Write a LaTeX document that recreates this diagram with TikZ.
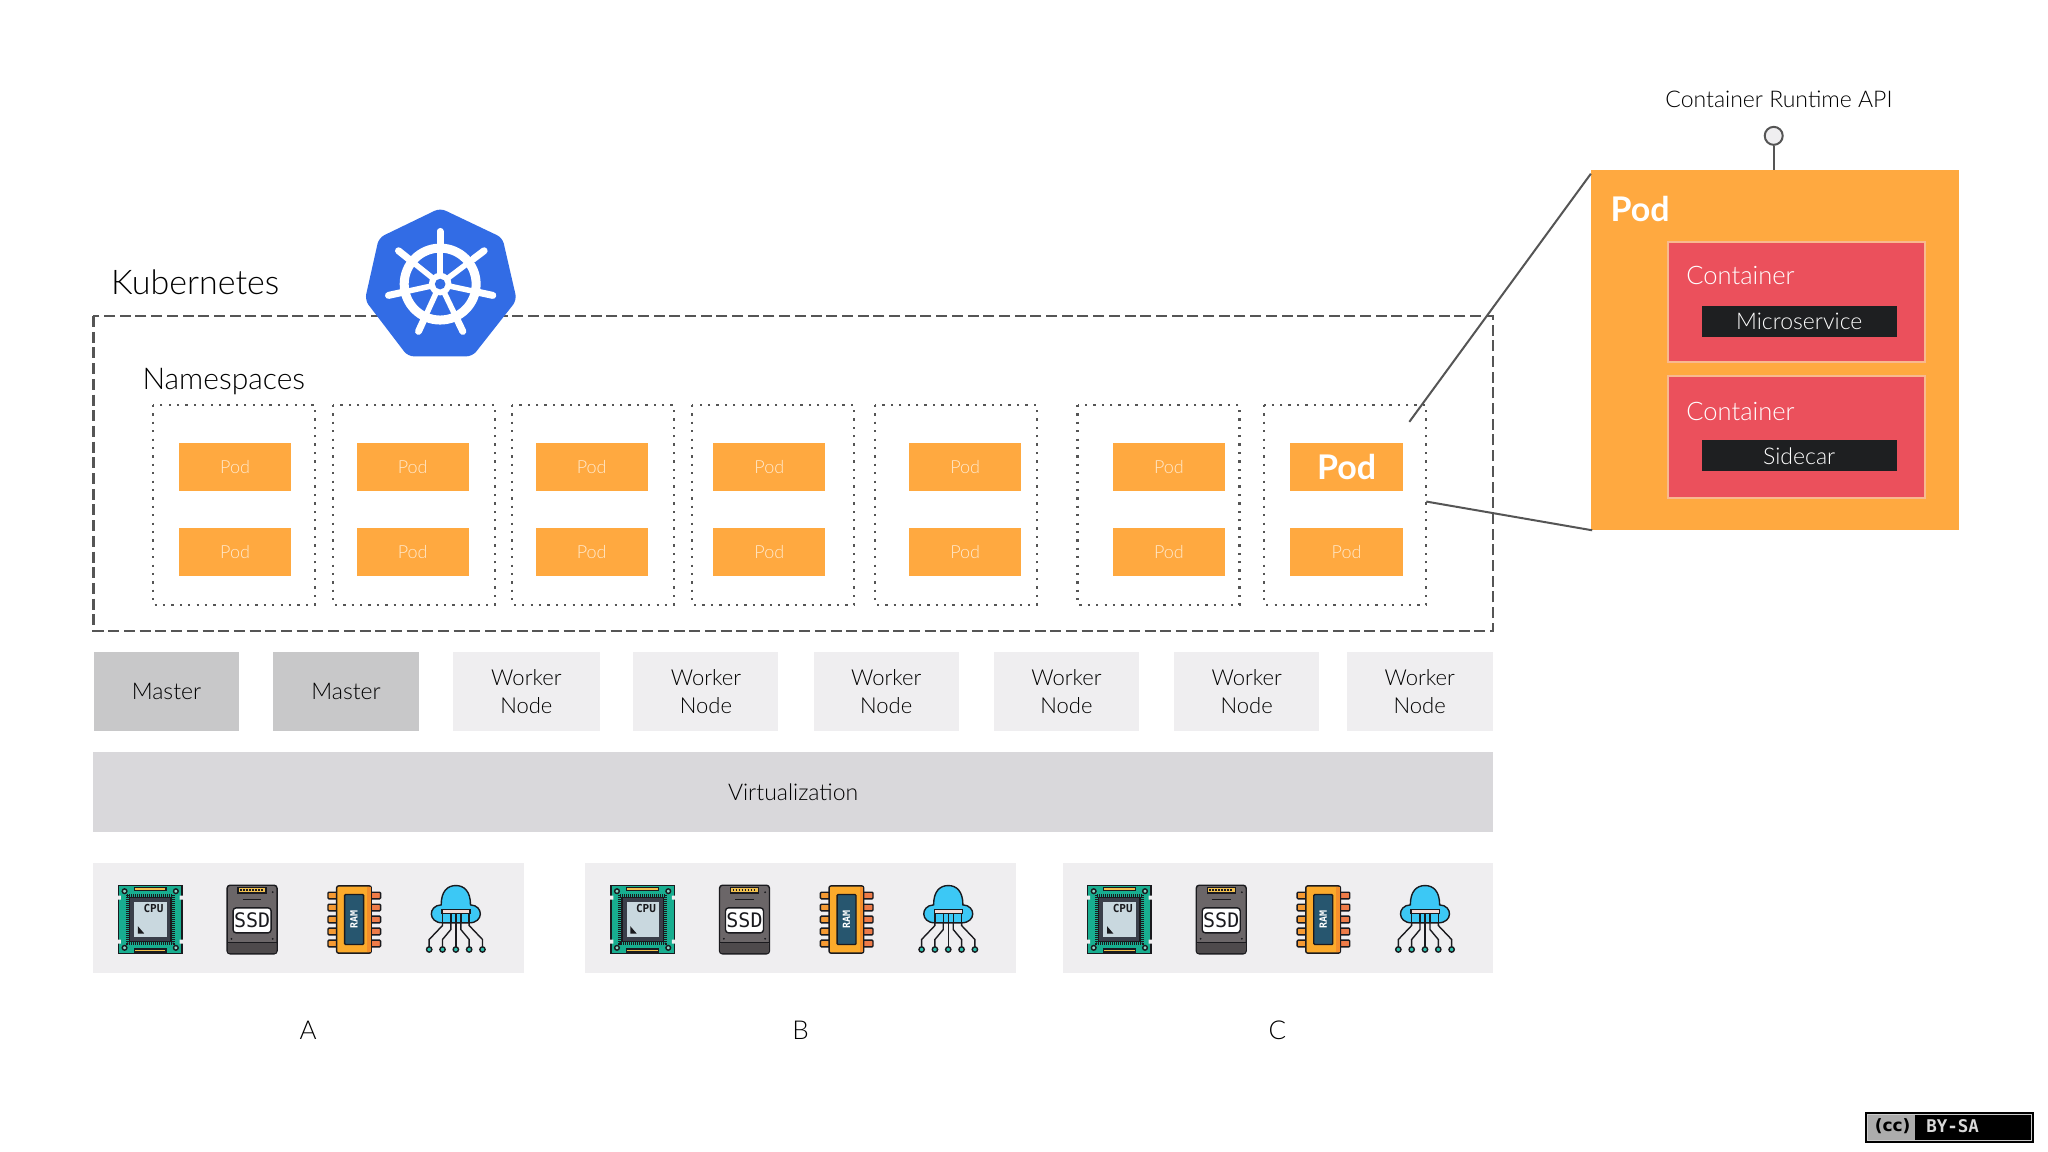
\documentclass[tikz,border=0pt]{standalone}
\usepackage{fontspec}
\usetikzlibrary{calc}
\setmainfont{Lato}[UprightFont=* Light,BoldFont=* Bold]
\newfontfamily\monofam{DejaVu Sans Mono}
\newfontfamily\sansfam{DejaVu Sans}
\newcommand{\monobold}{\monofam\bfseries}
\newcommand{\fsz}[1]{\fontsize{#1}{#1}\selectfont}
\definecolor{podor}{HTML}{FFA940}
\definecolor{podtxt}{HTML}{FFE9CC}
\definecolor{conred}{HTML}{EB505C}
\definecolor{conedge}{HTML}{F8B98F}
\definecolor{dark}{HTML}{1E1F21}
\definecolor{line}{HTML}{555555}
\definecolor{mastergr}{HTML}{C8C8C9}
\definecolor{workergr}{HTML}{EFEEF0}
\definecolor{virtgr}{HTML}{D9D8DB}
\definecolor{kblue}{HTML}{326CE5}
\definecolor{ink}{HTML}{1A1A1E}
\definecolor{cputeal}{HTML}{18AE90}
\definecolor{cpugold}{HTML}{F2C14E}
\definecolor{cpucore}{HTML}{3A3F4A}
\definecolor{cpuglass}{HTML}{C9D8DF}
\definecolor{ssdbody}{HTML}{6B6668}
\definecolor{ssdbase}{HTML}{4E4A4C}
\definecolor{rambody}{HTML}{FBAA2B}
\definecolor{ramside}{HTML}{F48E2B}
\definecolor{ramleft}{HTML}{F59A33}
\definecolor{ramright}{HTML}{EE7B48}
\definecolor{ramchip}{HTML}{27566F}
\definecolor{cloudblue}{HTML}{3CC8F5}
\definecolor{cloudbar}{HTML}{F3DCD8}
\definecolor{nodeteal}{HTML}{2FC4B0}
\tikzset{
  x=1.3061pt,y=-1.3061pt,
  flatbox/.style={draw=none,inner sep=0pt,align=center,text=black,font=\fsz{23}},
  podbox/.style={fill=podor,minimum width=112.3pt,minimum height=48.3pt,inner sep=0pt,text=podtxt,font=\fsz{18}},
  nsbox/.style={draw=line,line width=2.3pt,dash pattern=on 2.3pt off 6.1pt},
  outerbox/.style={draw=line,line width=2.4pt,dash pattern=on 11pt off 4.7pt},
  zoomline/.style={draw=line,line width=2pt},
  conbox/.style={fill=conred,draw=conedge,line width=2pt},
  svcbox/.style={fill=dark,inner sep=0pt,text=white,font=\fsz{23},minimum width=194.6pt,minimum height=31.3pt},
  contitle/.style={anchor=west,inner sep=0pt,text=white,font=\fsz{25.5}},
  icon/.style={line width=1.4pt,draw=ink},
}
\newcommand{\cpuicon}[3]{\begin{scope}[shift={(#1,#2)},scale=.255]
  \draw[icon,fill=cputeal] (-95,-102) rectangle (95,102);
  \fill[workergr] (-100,-72) rectangle (-88,-60) (-100,60) rectangle (-88,72) (88,-72) rectangle (100,-60) (88,60) rectangle (100,72);
  \draw[icon,fill=cpugold] (-48,-97) rectangle (48,-88) (-48,88) rectangle (48,97);
  \foreach \sx/\sy in {-77/-85,77/-85,-77/85,77/85} \draw[icon,fill=cputeal!50!white] (\sx,\sy) circle (7);
  \draw[ink,line width=3pt,dash pattern=on 1pt off 1pt] (-69,-73) rectangle (69,73);
  \draw[icon,fill=cpucore] (-62,-66) rectangle (62,66);
  \fill[cpuglass] (-48,-52) rectangle (50,52);
  \node[inner sep=0pt,text=ink,font={\monobold\fsz{11}}] (#3) at (10,-32) {CPU};
  \fill[ink] (-37,20) -- (-37,42) -- (-18,42) -- cycle;
\end{scope}}
\newcommand{\ssdicon}[3]{\begin{scope}[shift={(#1,#2)},scale=.255]
  \draw[icon,fill=ssdbody,rounded corners=3pt] (-75,-103) rectangle (75,103);
  \fill[ssdbase,rounded corners=2pt] (-73,70) rectangle (73,101);
  \draw[ink,line width=1.2pt] (-74,70) -- (74,70);
  \draw[icon,fill=cpugold] (-42,-97) rectangle (42,-80);
  \draw[ink,line width=1.5pt,dash pattern=on 1.5pt off 1.5pt] (-36,-89) -- (36,-89);
  \draw[ink,line width=1.2pt] (-28,-60) -- (28,-60);
  \draw[icon,fill=white,rounded corners=3pt] (-57,-35) rectangle (57,40);
  \node[inner sep=0pt,text=ink,font={\monofam\fsz{20}}] (#3) at (0,3) {SSD};
  \foreach \sx/\sy in {-62/58,62/58,62/-82} \fill[ink] (\sx,\sy) circle (3);
\end{scope}}
\newcommand{\ramicon}[3]{\begin{scope}[shift={(#1,#2)},scale=.255]
  \foreach \sy in {-72,-36,0,36,72} {
    \draw[icon,fill=ramleft,rounded corners=1pt] (-78,\sy-10) rectangle (-50,\sy+10);
    \draw[icon,fill=ramright,rounded corners=1pt] (50,\sy-10) rectangle (80,\sy+10);
  }
  \draw[icon,fill=rambody,rounded corners=2pt] (-52,-101) rectangle (52,101);
  \fill[ramside] (40,-99) rectangle (51,99);
  \draw[icon,fill=ramchip,rounded corners=1pt] (-28,-75) rectangle (29,75);
  \node[inner sep=0pt,text=white,rotate=90,font={\monobold\fsz{10}}] (#3) at (0,0) {RAM};
\end{scope}}
\newcommand{\cloudicon}[2]{\begin{scope}[shift={(#1,#2)},scale=.255]
  \foreach \ex/\mx/\ky/\ly in {-80/-40/18/60,-40/-15/30/60,0/0/30/30,40/15/30/60,80/40/18/60} {
    \draw[ink,line width=1.4pt] (\mx,5) -- (\mx,\ky) -- (\ex,\ly) -- (\ex,82);
    \draw[icon,fill=nodeteal] (\ex,90) circle (8);
  }
  \draw[icon,fill=cloudblue] (-40,10) .. controls (-84,10) and (-84,-42) .. (-44,-44) .. controls (-44,-85) and (-25,-102) .. (0,-102) .. controls (25,-102) and (44,-85) .. (44,-44) .. controls (84,-42) and (84,10) .. (40,10) -- cycle;
  \draw[icon,fill=cloudbar] (-42,-30) rectangle (43,-18);
  \draw[ink,line width=1.4pt] (-40,-18) -- (-40,10) (-15,-18) -- (-15,10) (0,-18) -- (0,10) (15,-18) -- (15,10) (40,-18) -- (40,10);
\end{scope}}
\begin{document}
\begin{tikzpicture}
\useasboundingbox[fill=white] (0,0) rectangle (1568,882);
% kubernetes frame
\draw[outerbox] (71.5,242) rectangle (1143,483);
\node[anchor=west,inner sep=0pt,text=black,font=\fsz{34}] (kube) at (85,216) {Kubernetes};
\node[anchor=west,inner sep=0pt,text=black,font=\fsz{30}] (nslabel) at (109,292) {Namespaces};
% logo
\begin{scope}[shift={(337,218)},scale=.255]
  \fill[kblue,rounded corners=6pt] (0,-230) -- (187,-141) -- (230,46) -- (97,215) -- (-97,215) -- (-226,46) -- (-184,-141) -- cycle;
  \draw[white,line width=9pt] (0,-2) circle (108);
  \foreach \ex/\ey in {0/-160,-125/-102,132/-102,-155/32,158/32,-65/140,68/140}
    \draw[white,line width=5.5pt,line cap=round] (0,-2) -- (\ex,\ey);
  \foreach \ex/\ey in {0/-160,-125/-102,132/-102,-155/32,158/32,-65/140,68/140}
    \draw[white,line width=7pt,line cap=round] ($(0,-2)!.75!(\ex,\ey)$) -- (\ex,\ey);
  \fill[white] (0,-2) circle (34);
  \fill[kblue] (0,-2) circle (16);
\end{scope}
% namespaces and pods
\foreach \i/\nx/\px in {1/117/180,2/255/316,3/392/453,4/530/589,5/670/739,6/825/895,7/968/1031}{
  \draw[nsbox] (\nx,310) rectangle (\nx+124,463);
  \node[podbox] (pa\i) at (\px,357.5) {\ifnum\i=7 \textcolor{white}{\fsz{34}\bfseries Pod}\else Pod\fi};
  \node[podbox] (pb\i) at (\px,422.5) {Pod};
}
% masters, workers
\foreach \i/\xa/\xb in {1/72/183,2/209/321}
  \fill[mastergr] (\xa,499) rectangle node[flatbox] (m\i) {Master} (\xb,559.5);
\foreach \i/\xa/\xb in {1/347/459,2/485/596,3/623/734,4/761/872,5/899/1010,6/1031/1143}
  \fill[workergr] (\xa,499) rectangle node[flatbox,font=\fsz{22}] (w\i) {Worker\\[6pt]Node} (\xb,559.5);
\fill[virtgr] (71.5,576) rectangle node[flatbox] (virt) {Virtualization} (1143,637);
% hardware
\foreach \i/\xa/\xb/\lx/\lab in {1/71.5/401/236/A,2/448/778/613/B,3/814/1143/978/C}{
  \fill[workergr] (\xa,661) rectangle (\xb,745);
  \node[inner sep=0pt,text=black,font=\fsz{26}] (hw\i) at (\lx,789) {\lab};
}
\foreach \i/\ax in {1/115,2/492,3/857}{
  \cpuicon{\ax}{704}{cpu\i}
  \ssdicon{\ax+78}{704}{ssd\i}
  \ramicon{\ax+156}{704}{ram\i}
  \cloudicon{\ax+234}{704}
}
% big pod
\fill[podor] (1218,130) rectangle (1500,405.5);
\coordinate (bigpod) at (1359,130);
\node[anchor=west,inner sep=0pt,text=white,font={\fsz{34}\bfseries}] (podlabel) at (1233,160) {Pod};
\draw[conbox] (1277,185) rectangle (1474,277);
\draw[conbox] (1277,288) rectangle (1474,381);
\node[contitle] (c1) at (1291,211) {Container};
\node[contitle] (c2) at (1291,315) {Container};
\node[svcbox] (svc1) at (1377.5,246) {Microservice};
\node[svcbox] (svc2) at (1377.5,349) {Sidecar};
% API
\node[inner sep=0pt,text=black,font=\fsz{23}] (apitext) at (1362,76) {Container Runtime API};
\node[circle,draw=line,fill=workergr,line width=2pt,minimum size=18pt,inner sep=0pt] (api) at (1358,104) {};
\draw[zoomline] (api) -- (api |- bigpod);
% zoom lines
\coordinate (za) at (1079,323); \coordinate (zb) at (1218,133);
\coordinate (zc) at (1092,384); \coordinate (zd) at (1219,406);
\draw[zoomline] (za) -- (zb);
\draw[zoomline] (zc) -- (zd);
% badge
\fill[black] (1428,851) rectangle (1557,875);
\fill[gray!65] (1430,853) rectangle (1466,873);
\draw[gray!40,line width=1pt] (1430,853) rectangle (1555,873);
\node[inner sep=0pt,text=black,font={\sansfam\bfseries\fsz{17}}] (ccmark) at (1449,862) {(cc)};
\node[inner sep=0pt,text=gray!30,font={\monobold\fsz{17.5}}] (cclab) at (1495,862.5) {BY-SA};
\end{tikzpicture}
\end{document}
